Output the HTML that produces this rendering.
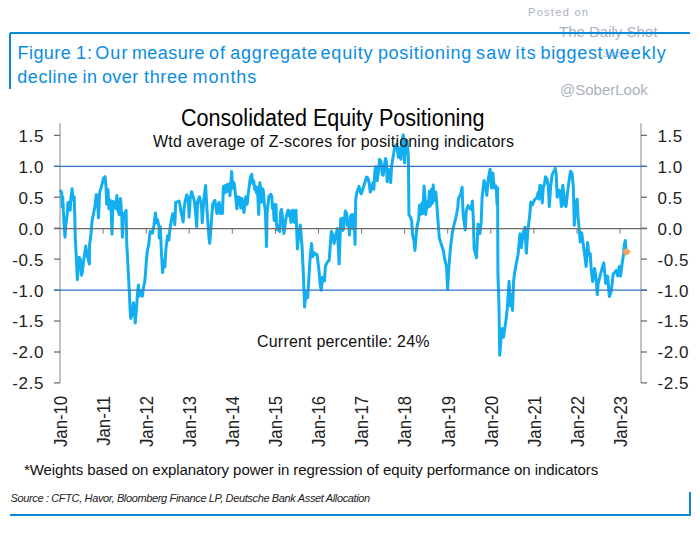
<!DOCTYPE html>
<html><head><meta charset="utf-8"><style>
html,body{margin:0;padding:0;background:#fff;}
body{width:700px;height:536px;position:relative;overflow:hidden;font-family:"Liberation Sans",sans-serif;}
.a{position:absolute;white-space:nowrap;}
.wm{position:absolute;white-space:nowrap;color:#aab2c0;}
.cap{position:absolute;color:#0a8ddf;font-size:18px;white-space:nowrap;}
.yl{position:absolute;font-size:17px;color:#222;width:40px;letter-spacing:0.6px;}
.yl.l{left:4px;text-align:right;}
.yl.r{left:657.4px;text-align:left;}
.xl{position:absolute;top:412.3px;width:60px;height:22px;line-height:22px;font-size:18.5px;color:#222;transform:rotate(-90deg) scaleX(0.905);text-align:right;}
svg{position:absolute;left:0;top:0;}
</style></head><body>
<div class="wm" style="left:528px;top:6px;font-size:11px;letter-spacing:1.3px;">Posted on</div>
<div class="wm" style="left:559px;top:22.5px;font-size:15px;">The Daily Shot</div>
<div class="wm" style="left:603px;top:50px;font-size:8px;color:#b9c0cc">3/4/2023</div>
<div class="wm" style="left:560px;top:81.2px;font-size:15px;">@SoberLook</div>
<div class="a" style="left:10px;top:32.4px;width:680px;height:2px;background:#0a89d8"></div>
<div class="a" style="left:9.2px;top:33px;width:1.8px;height:56px;background:#0a89d8"></div>
<div class="cap" style="top:43px;left:17.6px;letter-spacing:0.42px">Figure</div><div class="cap" style="top:43px;left:76.1px;letter-spacing:0.8px">1:</div><div class="cap" style="top:43px;left:95.3px;letter-spacing:1.05px">Our</div><div class="cap" style="top:43px;left:131.9px;letter-spacing:0.45px">measure</div><div class="cap" style="top:43px;left:208.9px;letter-spacing:1.0px">of</div><div class="cap" style="top:43px;left:230.3px;letter-spacing:0.74px">aggregate</div><div class="cap" style="top:43px;left:320.6px;letter-spacing:0.76px">equity</div><div class="cap" style="top:43px;left:377.9px;letter-spacing:0.72px">positioning</div><div class="cap" style="top:43px;left:476.1px;letter-spacing:1.2px">saw</div><div class="cap" style="top:43px;left:515.4px;letter-spacing:1.2px">its</div><div class="cap" style="top:43px;left:540.5px;letter-spacing:0.67px">biggest</div><div class="cap" style="top:43px;left:605.6px;letter-spacing:1.02px">weekly</div>
<div class="cap" style="top:66.7px;left:17.3px;letter-spacing:0.53px">decline</div><div class="cap" style="top:66.7px;left:82.5px;letter-spacing:0.6px">in</div><div class="cap" style="top:66.7px;left:101.9px;letter-spacing:0.43px">over</div><div class="cap" style="top:66.7px;left:144.1px;letter-spacing:0.6px">three</div><div class="cap" style="top:66.7px;left:192.6px;letter-spacing:0.94px">months</div>
<svg width="700" height="536" viewBox="0 0 700 536">
<line x1="60" y1="123.2" x2="60" y2="382.9" stroke="#999" stroke-width="1.2"/><line x1="641.0" y1="123.2" x2="641.0" y2="382.9" stroke="#999" stroke-width="1.2"/><line x1="54" y1="135.3" x2="60" y2="135.3" stroke="#555" stroke-width="1.1"/><line x1="641.0" y1="135.3" x2="647.0" y2="135.3" stroke="#555" stroke-width="1.1"/><line x1="54" y1="166.3" x2="60" y2="166.3" stroke="#555" stroke-width="1.1"/><line x1="641.0" y1="166.3" x2="647.0" y2="166.3" stroke="#555" stroke-width="1.1"/><line x1="54" y1="197.2" x2="60" y2="197.2" stroke="#555" stroke-width="1.1"/><line x1="641.0" y1="197.2" x2="647.0" y2="197.2" stroke="#555" stroke-width="1.1"/><line x1="54" y1="228.2" x2="60" y2="228.2" stroke="#555" stroke-width="1.1"/><line x1="641.0" y1="228.2" x2="647.0" y2="228.2" stroke="#555" stroke-width="1.1"/><line x1="54" y1="259.1" x2="60" y2="259.1" stroke="#555" stroke-width="1.1"/><line x1="641.0" y1="259.1" x2="647.0" y2="259.1" stroke="#555" stroke-width="1.1"/><line x1="54" y1="290.1" x2="60" y2="290.1" stroke="#555" stroke-width="1.1"/><line x1="641.0" y1="290.1" x2="647.0" y2="290.1" stroke="#555" stroke-width="1.1"/><line x1="54" y1="321.0" x2="60" y2="321.0" stroke="#555" stroke-width="1.1"/><line x1="641.0" y1="321.0" x2="647.0" y2="321.0" stroke="#555" stroke-width="1.1"/><line x1="54" y1="352.0" x2="60" y2="352.0" stroke="#555" stroke-width="1.1"/><line x1="641.0" y1="352.0" x2="647.0" y2="352.0" stroke="#555" stroke-width="1.1"/><line x1="54" y1="382.9" x2="60" y2="382.9" stroke="#555" stroke-width="1.1"/><line x1="641.0" y1="382.9" x2="647.0" y2="382.9" stroke="#555" stroke-width="1.1"/><line x1="103.1" y1="228.2" x2="103.1" y2="233.7" stroke="#777" stroke-width="1"/><line x1="146.2" y1="228.2" x2="146.2" y2="233.7" stroke="#777" stroke-width="1"/><line x1="189.2" y1="228.2" x2="189.2" y2="233.7" stroke="#777" stroke-width="1"/><line x1="232.3" y1="228.2" x2="232.3" y2="233.7" stroke="#777" stroke-width="1"/><line x1="275.4" y1="228.2" x2="275.4" y2="233.7" stroke="#777" stroke-width="1"/><line x1="318.5" y1="228.2" x2="318.5" y2="233.7" stroke="#777" stroke-width="1"/><line x1="361.6" y1="228.2" x2="361.6" y2="233.7" stroke="#777" stroke-width="1"/><line x1="404.6" y1="228.2" x2="404.6" y2="233.7" stroke="#777" stroke-width="1"/><line x1="447.7" y1="228.2" x2="447.7" y2="233.7" stroke="#777" stroke-width="1"/><line x1="490.8" y1="228.2" x2="490.8" y2="233.7" stroke="#777" stroke-width="1"/><line x1="533.9" y1="228.2" x2="533.9" y2="233.7" stroke="#777" stroke-width="1"/><line x1="577.0" y1="228.2" x2="577.0" y2="233.7" stroke="#777" stroke-width="1"/><line x1="620.0" y1="228.2" x2="620.0" y2="233.7" stroke="#777" stroke-width="1"/><path d="M60.5,190.9 L61.7,192.4 L62.3,207.3 L62.7,196.9 L63.5,213.3 L64.2,226.7 L65.0,237.2 L66.1,222.2 L67.2,214.8 L67.9,202.8 L69.4,202.1 L70.2,210.3 L70.9,198.4 L72.1,188.7 L73.2,199.9 L74.2,196.9 L74.7,214.8 L75.4,241.6 L75.5,241.6 L76.4,259.5 L77.3,279.7 L78.2,268.5 L79.3,257.3 L80.4,259.5 L81.5,275.2 L82.2,273.0 L83.8,259.5 L85.8,246.1 L87.1,255.1 L89.4,264.0 L89.6,244.6 L91.1,232.7 L92.1,220.7 L93.3,214.8 L94.8,207.3 L96.3,194.6 L97.5,201.3 L98.5,217.8 L99.6,192.4 L101.1,187.9 L102.3,183.4 L103.5,178.2 L105.0,176.7 L106.0,186.4 L106.7,204.3 L107.9,189.4 L109.0,208.8 L110.0,199.9 L111.2,211.8 L112.0,234.2 L113.0,201.3 L114.5,202.8 L116.0,208.8 L116.9,195.4 L117.9,210.3 L119.4,214.8 L120.5,198.4 L121.7,214.8 L122.4,237.2 L123.5,214.8 L124.7,213.3 L126.1,210.3 L126.7,242.4 L128.5,276.0 L129.4,293.9 L130.1,309.5 L130.8,318.5 L132.3,314.0 L133.4,302.8 L134.6,309.5 L135.2,323.0 L136.4,309.5 L137.5,293.9 L138.4,284.9 L139.3,296.1 L140.6,291.6 L142.4,296.1 L143.5,287.2 L144.6,282.7 L145.3,276.0 L146.4,260.3 L147.3,251.3 L148.7,244.6 L150.1,231.6 L152.4,233.1 L153.9,225.7 L155.4,213.0 L156.6,222.7 L157.6,219.7 L159.1,227.2 L159.2,237.9 L160.3,226.7 L161.5,253.6 L162.6,272.6 L163.7,260.3 L164.8,267.0 L165.9,249.1 L167.5,235.7 L168.9,240.1 L169.7,231.2 L171.5,219.2 L172.9,213.6 L173.9,214.5 L174.8,224.8 L175.7,202.4 L177.1,201.9 L179.0,201.0 L179.9,204.3 L180.9,211.7 L181.8,215.4 L183.2,222.0 L184.1,208.0 L185.1,201.5 L186.9,194.9 L188.3,198.7 L189.1,217.3 L190.2,198.7 L191.6,191.7 L193.0,195.9 L194.4,201.5 L195.8,215.4 L196.7,226.6 L197.6,201.5 L199.5,196.8 L200.9,203.3 L201.5,206.0 L202.2,222.8 L203.7,200.4 L205.6,185.4 L207.1,211.6 L209.0,237.7 L209.7,243.3 L211.2,224.6 L212.7,204.1 L214.6,200.4 L215.0,200.4 L215.9,207.0 L216.9,213.5 L217.8,205.1 L219.2,202.3 L220.1,213.5 L221.5,205.1 L222.5,213.5 L223.4,186.5 L224.3,193.0 L225.3,185.5 L226.2,192.1 L227.1,184.6 L228.5,191.1 L229.5,183.7 L229.9,195.8 L230.9,183.7 L231.6,171.5 L232.5,183.7 L233.2,188.3 L234.1,182.7 L235.1,191.1 L236.0,200.4 L236.9,208.8 L237.9,196.7 L238.8,204.2 L239.7,197.6 L240.7,207.9 L242.1,198.6 L243.0,206.0 L243.9,212.6 L244.9,204.2 L245.8,196.7 L247.2,204.2 L248.1,194.9 L249.0,188.3 L250.4,177.1 L251.8,174.3 L252.8,183.7 L253.7,180.9 L254.6,189.3 L255.6,186.5 L256.5,193.0 L257.4,187.4 L258.7,214.4 L259.8,182.7 L260.5,188.3 L261.2,202.3 L262.1,191.1 L262.5,188.7 L263.4,190.6 L264.3,203.7 L265.3,210.2 L266.2,235.0 L266.5,246.6 L267.1,213.0 L268.1,203.7 L269.0,196.2 L270.9,194.3 L271.8,196.2 L272.3,208.3 L273.2,203.7 L274.1,220.4 L275.1,205.5 L276.0,204.6 L276.5,224.2 L277.4,229.8 L278.3,226.0 L279.7,231.6 L280.7,211.1 L281.6,209.3 L282.5,217.6 L283.9,233.5 L285.1,224.2 L286.4,215.8 L288.1,210.2 L289.1,215.8 L290.0,211.1 L290.9,222.3 L291.9,212.1 L292.8,210.2 L294.2,222.3 L295.1,212.1 L296.0,210.2 L297.4,248.9 L299.0,232.4 L300.3,224.9 L302.1,247.3 L303.4,275.3 L304.6,307.0 L305.9,292.1 L307.7,297.7 L308.7,280.9 L310.1,258.5 L311.5,243.6 L312.8,256.6 L314.3,252.9 L317.1,254.8 L318.9,269.7 L320.2,284.6 L321.3,290.2 L322.6,277.2 L324.5,280.9 L325.4,266.0 L327.3,262.2 L329.2,260.4 L331.3,231.4 L332.7,234.2 L334.1,243.5 L336.0,234.2 L337.4,228.6 L339.1,264.0 L340.7,219.3 L342.1,218.3 L343.0,230.4 L343.9,225.8 L345.3,210.9 L346.7,213.7 L347.6,225.8 L348.6,221.1 L349.5,235.1 L350.4,216.5 L351.8,214.6 L352.8,228.6 L353.7,214.6 L355.1,244.4 L355.7,200.0 L356.7,192.9 L359.0,186.4 L359.9,191.0 L361.3,193.8 L362.7,189.2 L364.6,183.6 L366.5,177.1 L367.9,178.0 L369.3,183.6 L370.2,192.0 L371.6,189.2 L373.0,182.6 L373.9,189.2 L374.9,170.5 L375.8,166.8 L377.2,180.8 L378.6,170.5 L379.5,159.3 L380.9,161.2 L382.3,174.3 L383.2,175.2 L384.6,164.0 L385.6,158.4 L386.5,162.1 L387.2,181.7 L388.4,173.3 L389.3,169.6 L390.7,182.6 L391.6,165.9 L393.0,157.5 L394.9,146.1 L396.8,144.3 L398.3,157.3 L399.6,148.0 L400.9,159.2 L402.4,138.7 L403.3,134.9 L404.6,162.9 L405.7,142.4 L407.1,140.5 L408.4,157.3 L408.9,213.3 L409.0,214.9 L410.3,216.8 L411.6,220.5 L412.7,235.4 L414.0,241.0 L414.9,250.4 L416.8,228.0 L418.7,218.7 L419.5,205.2 L420.4,214.5 L421.8,203.3 L422.7,213.6 L424.1,186.1 L425.1,198.7 L425.7,214.5 L427.4,201.5 L428.3,207.1 L429.4,191.2 L430.2,206.1 L431.6,189.3 L432.5,203.3 L433.2,185.1 L434.4,200.5 L435.8,192.1 L436.7,202.4 L437.3,211.2 L439.2,237.3 L441.4,244.8 L443.3,250.4 L444.8,259.7 L446.6,267.2 L447.6,289.6 L448.9,267.2 L450.4,248.5 L452.2,233.6 L454.1,224.3 L456.0,216.8 L457.8,207.5 L458.4,198.4 L460.6,194.6 L462.1,187.2 L463.1,214.9 L465.3,229.9 L466.2,211.2 L468.1,205.6 L470.0,208.4 L471.1,209.3 L472.4,200.9 L473.3,218.7 L474.1,248.5 L475.6,254.1 L476.5,257.8 L478.0,224.3 L479.9,233.6 L481.2,222.4 L482.1,197.3 L484.0,180.5 L485.3,184.3 L486.8,195.4 L488.3,178.7 L490.1,169.3 L491.5,188.0 L492.8,173.1 L494.3,188.0 L496.1,186.1 L497.1,204.8 L497.6,188.0 L497.9,272.4 L499.0,306.0 L499.7,355.2 L501.3,335.1 L502.4,328.4 L503.5,337.3 L505.8,321.6 L507.3,308.2 L509.1,281.3 L510.3,306.0 L511.4,294.8 L512.5,310.4 L513.6,281.3 L514.7,272.4 L516.3,263.4 L518.1,254.5 L520.0,233.7 L521.3,247.7 L523.2,232.8 L525.0,227.2 L526.3,253.3 L527.8,230.9 L529.7,216.0 L530.8,202.0 L532.5,204.8 L534.3,200.1 L537.1,197.3 L538.1,192.6 L539.0,199.2 L539.9,185.2 L541.3,186.1 L542.3,202.9 L543.2,188.0 L544.6,183.3 L545.5,176.8 L546.9,178.7 L548.3,186.1 L549.3,206.6 L550.7,186.1 L552.1,174.9 L553.5,172.1 L555.3,168.4 L556.2,174.0 L557.2,197.3 L558.1,189.9 L560.0,190.8 L561.4,206.6 L562.8,185.2 L563.7,192.6 L564.6,204.8 L566.0,206.6 L567.4,193.6 L568.8,182.4 L570.5,171.2 L572.0,173.1 L573.3,186.1 L574.3,225.3 L575.7,204.8 L577.1,199.2 L578.0,216.0 L579.5,232.8 L580.2,242.1 L581.7,232.8 L583.2,244.0 L584.5,253.3 L586.1,266.6 L587.6,242.4 L588.9,255.4 L590.2,253.6 L591.3,270.4 L592.6,281.6 L594.5,268.5 L595.8,276.0 L597.3,294.6 L598.2,283.4 L600.1,276.0 L602.0,268.5 L603.8,262.9 L605.7,283.4 L607.6,276.0 L609.4,296.5 L611.3,290.9 L613.2,274.1 L615.0,272.2 L616.3,270.4 L617.8,276.0 L619.3,266.6 L620.6,276.0 L621.9,264.8 L623.4,255.4 L624.4,244.3 L625.3,240.5 L626.2,251.7" fill="none" stroke="#12aef0" stroke-width="3" stroke-linejoin="round" stroke-linecap="round"/><line x1="54" y1="166.3" x2="647.0" y2="166.3" stroke="#2f74c8" stroke-width="1.3"/><line x1="54" y1="290.1" x2="647.0" y2="290.1" stroke="#2f74c8" stroke-width="1.3"/><line x1="54" y1="228.6" x2="647.0" y2="228.6" stroke="#6a6a6a" stroke-width="1.2"/><polygon points="623.4,250.6 625.3,248.8 627.8,249.2 630.6,251.9 627.8,254.5 625.3,255.1 623.4,253.3" fill="#f5a35c" stroke="#f5a35c" stroke-width="0.8" stroke-linejoin="round"/>
</svg>
<div class="a" style="left:181.4px;top:104.8px;font-size:23.5px;transform:scaleX(0.918);transform-origin:0 0;color:#000">Consolidated Equity Positioning</div>
<div class="a" style="left:153px;top:132.9px;font-size:16px;letter-spacing:0.18px;color:#111">Wtd average of Z-scores for positioning indicators</div>
<div class="yl l" style="top:126.8px">1.5</div><div class="yl r" style="top:126.8px">1.5</div><div class="yl l" style="top:157.7px">1.0</div><div class="yl r" style="top:157.7px">1.0</div><div class="yl l" style="top:188.7px">0.5</div><div class="yl r" style="top:188.7px">0.5</div><div class="yl l" style="top:219.6px">0.0</div><div class="yl r" style="top:219.6px">0.0</div><div class="yl l" style="top:250.5px">-0.5</div><div class="yl r" style="top:250.5px">-0.5</div><div class="yl l" style="top:281.5px">-1.0</div><div class="yl r" style="top:281.5px">-1.0</div><div class="yl l" style="top:312.4px">-1.5</div><div class="yl r" style="top:312.4px">-1.5</div><div class="yl l" style="top:343.4px">-2.0</div><div class="yl r" style="top:343.4px">-2.0</div><div class="yl l" style="top:374.3px">-2.5</div><div class="yl r" style="top:374.3px">-2.5</div>
<div class="xl" style="left:30.8px">Jan-10</div><div class="xl" style="left:73.9px">Jan-11</div><div class="xl" style="left:117.0px">Jan-12</div><div class="xl" style="left:160.0px">Jan-13</div><div class="xl" style="left:203.1px">Jan-14</div><div class="xl" style="left:246.2px">Jan-15</div><div class="xl" style="left:289.3px">Jan-16</div><div class="xl" style="left:332.4px">Jan-17</div><div class="xl" style="left:375.4px">Jan-18</div><div class="xl" style="left:418.5px">Jan-19</div><div class="xl" style="left:461.6px">Jan-20</div><div class="xl" style="left:504.7px">Jan-21</div><div class="xl" style="left:547.8px">Jan-22</div><div class="xl" style="left:590.8px">Jan-23</div>
<div class="a" style="left:257px;top:332.5px;font-size:16px;letter-spacing:0.2px;color:#111">Current percentile: 24%</div>
<div class="a" style="left:24px;top:461px;font-size:15px;letter-spacing:-0.08px;color:#111">*Weights based on explanatory power in regression of equity performance on indicators</div>
<div class="a" style="left:10.5px;top:492.3px;font-size:11px;letter-spacing:-0.36px;font-style:italic;color:#222">Source : CFTC, Havor, Bloomberg Finance LP, Deutsche Bank Asset Allocation</div>
<div class="a" style="left:10px;top:514px;width:681px;height:2px;background:#0a89d8"></div>
<div class="a" style="left:689.2px;top:492px;width:1.8px;height:24px;background:#0a89d8"></div>
</body></html>
